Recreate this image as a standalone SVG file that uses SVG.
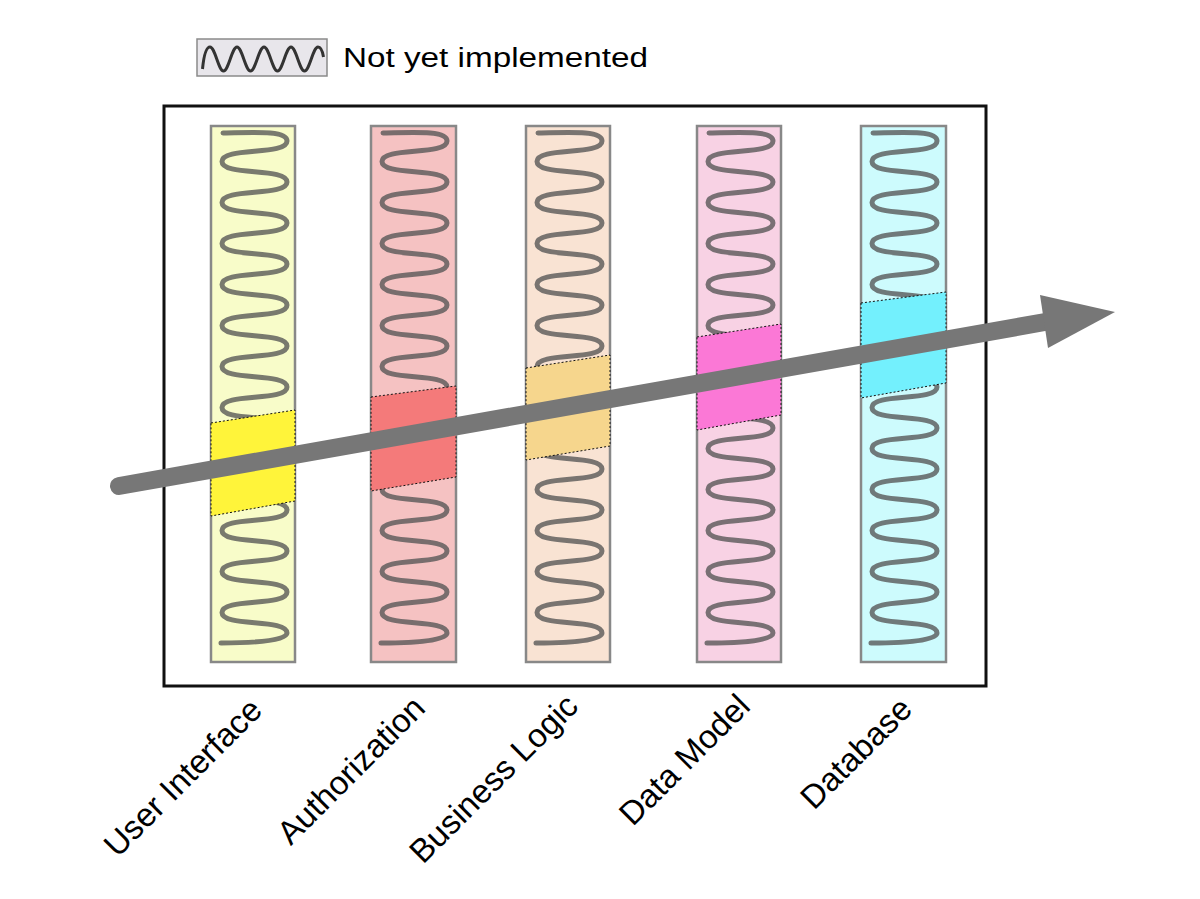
<svg xmlns="http://www.w3.org/2000/svg" xmlns:xlink="http://www.w3.org/1999/xlink" width="1200" height="899" viewBox="0 0 1200 899">
<style>
.col{stroke:#888;stroke-width:2.5}
.coil{fill:none;stroke:#555;stroke-opacity:0.78;stroke-width:5;stroke-linecap:round}
.band{stroke:#111;stroke-width:1;stroke-dasharray:2 2}
.lbl{font-family:"Liberation Sans",Arial,sans-serif;font-size:33px;fill:#000;text-anchor:end}
</style>
<defs>
<path id="coil" d="M12,133 C50,132 76,131 76,141 C76,156 11,146.5 11,161.5 C11,176.5 76,167 76,182 C76,197 11,187.5 11,202.5 C11,217.5 76,208 76,223 C76,238 11,228.5 11,243.5 C11,258.5 76,249 76,264 C76,279 11,269.5 11,284.5 C11,299.5 76,290 76,305 C76,320 11,310.5 11,325.5 C11,340.5 76,331 76,346 C76,361 11,351.5 11,366.5 C11,381.5 76,372 76,387 C76,402 11,392.5 11,407.5 C11,422.5 76,413 76,428 C76,443 11,433.5 11,448.5 C11,463.5 76,454 76,469 C76,484 11,474.5 11,489.5 C11,504.5 76,495 76,510 C76,525 11,515.5 11,530.5 C11,545.5 76,536 76,551 C76,566 11,556.5 11,571.5 C11,586.5 76,577 76,592 C76,607 11,597.5 11,612.5 C11,627.5 76,618 76,633 C76,640 50,643 10,643"/>
</defs>
<rect width="1200" height="899" fill="#fff"/>
<g id="legend">
<rect x="197" y="39" width="130" height="37" fill="#e8e6eb" stroke="#8a8a8a" stroke-width="1.5"/>
<path d="M202.5,69 C204,54 206.5,47 210,47 C215,47 218.5,71 223.5,71 C228.5,71 232,47 237,47 C242,47 245.5,71 250.5,71 C255.5,71 259,47 264,47 C269,47 272.5,71 277.5,71 C282.5,71 286,47 291,47 C296,47 299.5,71 304.5,71 C309.5,71 313,47 318,47 C320.5,47 322.5,51 323.5,57" fill="none" stroke="#333" stroke-width="3"/>
<text x="343" y="67" font-family="'Liberation Sans',Arial,sans-serif" font-size="27" textLength="305" lengthAdjust="spacingAndGlyphs">Not yet implemented</text>
</g>
<rect id="frame" x="164" y="106" width="822" height="580" fill="none" stroke="#111" stroke-width="3"/>
<g id="user-interface">
<rect class="col" x="211" y="126" width="84" height="536" fill="#f8fcc9"/>
<use xlink:href="#coil" href="#coil" x="211" class="coil"/>
<polygon class="band" points="211,423 295,410 295,501 211,516" fill="#fff43a"/>
<text class="lbl" x="264" y="712" transform="rotate(-45 264 712)">User Interface</text>
</g>
<g id="authorization">
<rect class="col" x="371" y="126" width="85" height="536" fill="#f5c2c2"/>
<use xlink:href="#coil" href="#coil" x="371" class="coil"/>
<polygon class="band" points="371,397 456,386 456,477 371,491" fill="#f47a7a"/>
<text class="lbl" x="427" y="710" transform="rotate(-45 427 710)">Authorization</text>
</g>
<g id="business-logic">
<rect class="col" x="526" y="126" width="84" height="536" fill="#f9e3d3"/>
<use xlink:href="#coil" href="#coil" x="526" class="coil"/>
<polygon class="band" points="526,368 610,355 610,446 526,460" fill="#f6d68d"/>
<text class="lbl" x="580" y="708" transform="rotate(-45 580 708)">Business Logic</text>
</g>
<g id="data-model">
<rect class="col" x="697" y="126" width="84" height="536" fill="#f8d2e4"/>
<use xlink:href="#coil" href="#coil" x="697" class="coil"/>
<polygon class="band" points="697,337 781,324 781,415 697,430" fill="#fb78d6"/>
<text class="lbl" x="752" y="708" transform="rotate(-45 752 708)">Data Model</text>
</g>
<g id="database">
<rect class="col" x="861" y="126" width="85" height="536" fill="#cdfbfd"/>
<use xlink:href="#coil" href="#coil" x="861" class="coil"/>
<polygon class="band" points="861,303 946,292 946,383 861,398" fill="#73f0fd"/>
<text class="lbl" x="914" y="711" transform="rotate(-45 914 711)">Database</text>
</g>
<g id="connectors">
<line x1="119" y1="486" x2="1045" y2="322" stroke="#777" stroke-width="18" stroke-linecap="round"/>
<polygon points="1040,295 1115,312 1048,348" fill="#777"/>
</g>
</svg>
